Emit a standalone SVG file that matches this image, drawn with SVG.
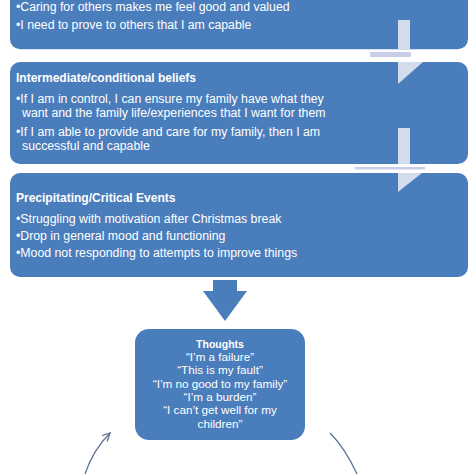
<svg xmlns="http://www.w3.org/2000/svg" width="474" height="474" viewBox="0 0 474 474">
  <style>
    .box { fill: #4a7dbc; }
    .t { font-family: "Liberation Sans", Arial, sans-serif; font-size: 12.3px; fill: #ffffff; }
    .h { font-family: "Liberation Sans", Arial, sans-serif; font-size: 12px; font-weight: bold; fill: #ffffff; }
    .tt { font-family: "Liberation Sans", Arial, sans-serif; font-size: 11.7px; fill: #ffffff; text-anchor: middle; }
    .th { font-family: "Liberation Sans", Arial, sans-serif; font-size: 10.5px; font-weight: bold; fill: #ffffff; text-anchor: middle; }
    .light { fill: #d3dcec; }
    .lav { fill: #c9cde5; }
    .curve { fill: none; stroke: #5f7197; stroke-width: 1.3; }
  </style>
  <defs>
    <marker id="open" markerUnits="userSpaceOnUse" markerWidth="12" markerHeight="12" refX="8" refY="4" orient="auto">
      <path d="M0,0 L8,4 L0,8" fill="none" stroke="#5f7197" stroke-width="1.3"/>
    </marker>
  </defs>
  <rect width="474" height="474" fill="#ffffff"/>

  <g id="core-beliefs">
    <rect class="box" x="10" y="-40" width="458" height="89.3" rx="10"/>
    <text class="t" x="16" y="11">•Caring for others makes me feel good and valued</text>
    <text class="t" x="16" y="29.3">•I need to prove to others that I am capable</text>
  </g>

  <g id="intermediate-beliefs">
    <rect class="box" x="10" y="62" width="458" height="102" rx="10"/>
    <text class="h" x="16" y="82.3">Intermediate/conditional beliefs</text>
    <text class="t" x="16" y="102.7">•If I am in control, I can ensure my family have what they</text>
    <text class="t" x="22" y="117.3">want and the family life/experiences that I want for them</text>
    <text class="t" x="16" y="136">•If I am able to provide and care for my family, then I am</text>
    <text class="t" x="22" y="150">successful and capable</text>
  </g>

  <g id="precipitating-events">
    <rect class="box" x="10" y="173" width="458" height="104" rx="10"/>
    <text class="h" x="16" y="202">Precipitating/Critical Events</text>
    <text class="t" x="16" y="222.7">•Struggling with motivation after Christmas break</text>
    <text class="t" x="16" y="240">•Drop in general mood and functioning</text>
    <text class="t" x="16" y="257">•Mood not responding to attempts to improve things</text>
  </g>

  <g id="thoughts">
    <rect class="box" x="135" y="329" width="170" height="111" rx="14"/>
    <text class="th" x="220" y="347.5">Thoughts</text>
    <text class="tt" x="220" y="361">“I’m a failure”</text>
    <text class="tt" x="220" y="374.3">“This is my fault”</text>
    <text class="tt" x="220" y="387.7">“I’m no good to my family”</text>
    <text class="tt" x="220" y="401">“I’m a burden”</text>
    <text class="tt" x="220" y="414.3">“I can’t get well for my</text>
    <text class="tt" x="220" y="427.7">children”</text>
  </g>

  <g id="connectors">
    <rect class="light" x="398" y="20" width="12" height="29.3"/>
    <rect class="lav" x="370" y="52" width="41" height="5"/>
    <polygon class="light" points="398,62 423,62 398,84"/>

    <rect class="light" x="398" y="128" width="12" height="36"/>
    <rect class="lav" x="355" y="167" width="70" height="2.5"/>
    <polygon class="light" points="398,173 422,173 398,192"/>

    <polygon class="box" points="213,280 237,280 237,291 247,291 225,321 203,291 213,291"/>

    <path class="curve" d="M85,474 Q93,450 110,433" marker-end="url(#open)"/>
    <path class="curve" d="M330,433 Q345,448 357,474"/>
  </g>
</svg>
